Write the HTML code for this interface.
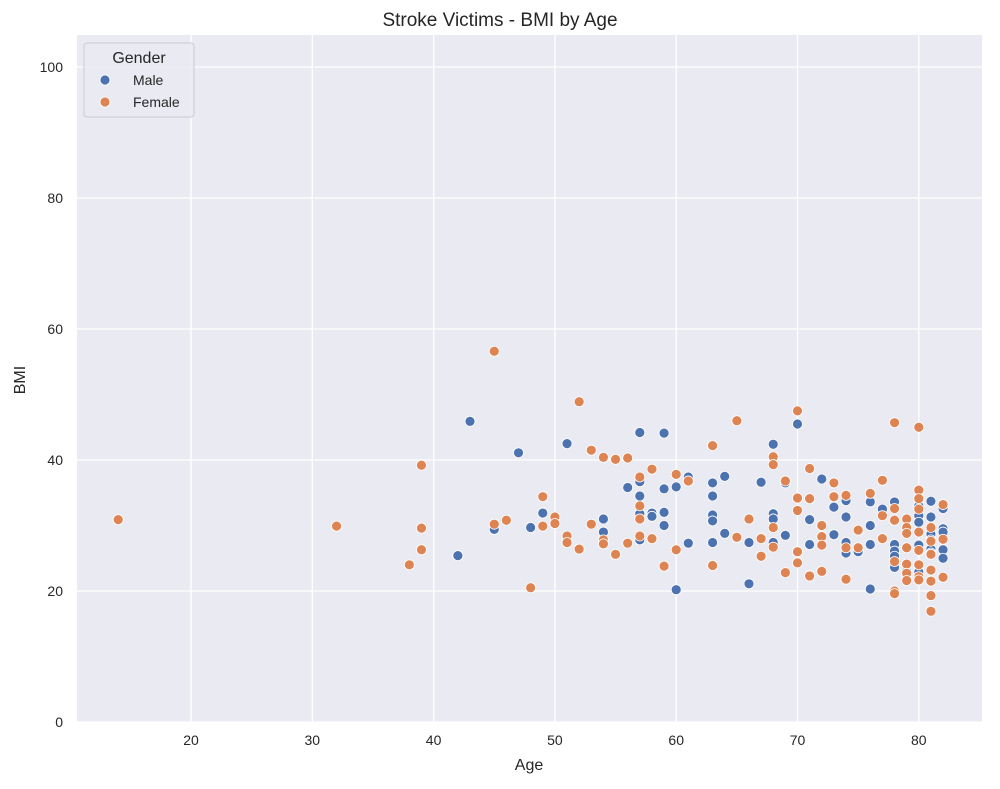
<!DOCTYPE html>
<html><head><meta charset="utf-8"><style>
body{margin:0;background:#fff;}
svg text{font-family:"Liberation Sans","DejaVu Sans",sans-serif;fill:#262626;}
</style></head><body>
<svg id="chart" width="1000" height="784" xmlns="http://www.w3.org/2000/svg">
<rect x="77" y="35" width="905" height="687" fill="#eaeaf2"/>
<g id="grid"></g>
<g id="marks"></g>
<g id="ticks"></g>
<text x="500" y="26" font-size="19" text-anchor="middle">Stroke Victims - BMI by Age</text>
<text x="529" y="770" font-size="16" text-anchor="middle">Age</text>
<text x="25" y="380" font-size="16" text-anchor="middle" transform="rotate(-90 25 380)">BMI</text>
<g>
<rect x="84" y="43" width="110" height="74" rx="3" fill="#eaeaf2" stroke="#cccccc" fill-opacity="0.8"/>
<text x="139" y="63" font-size="16" text-anchor="middle">Gender</text>
<g><circle cx="105" cy="80" r="5" fill="#4c72b0" stroke="#fff" stroke-width="0.8"/><text x="133" y="85" font-size="14">Male</text></g>
<g><circle cx="105" cy="102" r="5" fill="#dd8452" stroke="#fff" stroke-width="0.8"/><text x="133" y="107" font-size="14">Female</text></g>
</g>
</svg>
<script>
const xTicks=[20,30,40,50,60,70,80];
const yTicks=[0,20,40,60,80,100];
const maleAge=[42,43,45,47,48,49,51,54,54,56,57,57,57,57,57,58,58,59,59,59,59,60,60,61,61,63,63,63,63,63,64,64,66,66,67,68,68,68,68,69,69,70,71,71,72,73,73,74,74,74,74,75,76,76,76,76,77,78,78,78,78,78,79,79,80,80,80,80,80,80,81,81,81,81,81,81,82,82,82,82,82];
const maleBmi=[25.4,45.9,29.4,41.1,29.7,31.9,42.5,31,29,35.8,44.2,36.7,34.5,31.8,27.8,31.9,31.4,44.1,35.6,32,30,35.9,20.2,37.4,27.3,36.5,34.5,31.6,30.7,27.4,37.5,28.8,27.4,21.1,36.6,42.4,31.8,31,27.4,28.5,36.5,45.5,30.9,27.1,37.1,32.8,28.6,33.8,31.3,27.4,25.8,26,33.6,30,27.1,20.3,32.5,33.6,27.1,26.1,25.3,23.6,23,22.4,33,31.5,30.5,27,23.8,22.9,33.7,31.3,28.7,27.8,26.4,25.8,32.6,29.5,29,26.3,25];
const femaleAge=[14,32,38,39,39,39,45,45,46,48,49,49,50,50,51,51,52,52,53,53,54,54,54,55,55,56,56,57,57,57,57,58,58,59,60,60,61,63,63,65,65,66,67,67,68,68,68,68,69,69,70,70,70,70,70,71,71,71,72,72,72,72,73,73,74,74,74,75,75,76,77,77,77,78,78,78,78,78,78,79,79,79,79,79,79,79,80,80,80,80,80,80,80,80,80,81,81,81,81,81,81,81,82,82,82];
const femaleBmi=[30.9,29.9,24,39.2,29.6,26.3,56.6,30.2,30.8,20.5,34.4,29.9,31.3,30.3,28.4,27.4,48.9,26.4,41.5,30.2,40.4,27.8,27.2,40.1,25.6,40.3,27.3,37.4,33,31,28.4,38.6,28,23.8,37.8,26.3,36.8,42.2,23.9,46,28.2,31,28,25.3,40.5,39.3,29.7,26.7,36.8,22.8,47.5,34.2,32.3,26,24.3,38.7,34.1,22.3,30,28.3,27,23,36.5,34.4,34.6,26.6,21.8,29.3,26.6,34.9,36.9,31.5,28,45.7,32.6,30.8,24.5,20,19.6,31,29.7,28.8,26.6,24.1,22.7,21.6,45,35.4,34.1,32.5,29,26.2,24,22.2,21.7,29.7,27.6,25.6,23.2,21.5,19.3,16.9,33.2,27.9,22.1];
const NS='http://www.w3.org/2000/svg';
function xs(v){return 191+(v-20)*12.13;}
function ys(v){return 722-v*6.55;}
const grid=document.getElementById('grid'),ticks=document.getElementById('ticks'),marks=document.getElementById('marks');
function mk(tag,attrs,parent){const e=document.createElementNS(NS,tag);for(const k in attrs)e.setAttribute(k,attrs[k]);parent.appendChild(e);return e;}
xTicks.forEach(t=>{
  const l=mk('line',{x1:xs(t),x2:xs(t),y1:35,y2:722,stroke:'#fff','stroke-width':1.3},grid);
  
  
  const tx=mk('text',{x:xs(t),y:745,'font-size':14,'text-anchor':'middle'},ticks);tx.textContent=t;
  
  
});
yTicks.forEach(t=>{
  const l=mk('line',{x1:77,x2:982,y1:ys(t),y2:ys(t),stroke:'#fff','stroke-width':1.3},grid);
  
  
  const tx=mk('text',{x:63,y:ys(t)+5,'font-size':14,'text-anchor':'end'},ticks);tx.textContent=t;
  
  
});
function draw(ages,bmis,color,name){
  ages.forEach((a,i)=>{
    const c=mk('circle',{cx:xs(a),cy:ys(bmis[i]),r:5,fill:color,stroke:'#fff','stroke-width':0.8},marks);
    
    
  });
}
draw(maleAge,maleBmi,'#4c72b0','point-male');
draw(femaleAge,femaleBmi,'#dd8452','point-female');
</script>
</body></html>
